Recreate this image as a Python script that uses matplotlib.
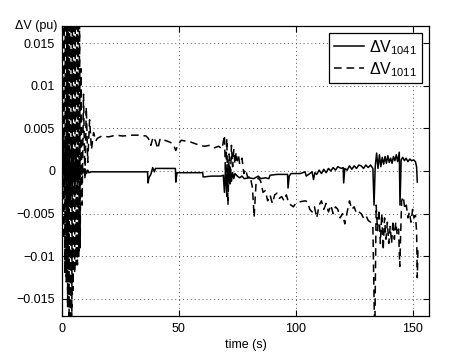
import matplotlib
matplotlib.use("Agg")
import matplotlib.pyplot as plt

plt.rcParams['font.family'] = ['Liberation Sans', 'DejaVu Sans']
plt.rcParams['mathtext.fontset'] = 'custom'
plt.rcParams['mathtext.rm'] = 'Liberation Sans'
plt.rcParams['mathtext.it'] = 'Liberation Sans'

# Delta V_1041 (solid)
t1041 = [0, 0.4, 1.0, 1.5, 2.5, 3.0, 3.5, 4.0, 4.5, 5.0, 5.5, 6.0, 6.5, 7.0, 7.5, 8.0,
         8.5, 9.0, 9.5, 10.0, 10.5, 11.0, 11.5, 12.5, 14, 20, 30, 36.6, 36.8, 37.2, 38,
         38.8, 39.5, 40, 44, 48.5, 48.7, 49.2, 55, 60.2, 60.4, 64, 68, 69, 69.5, 70,
         70.5, 71, 71.5, 72, 72.5, 73, 73.5, 74, 75, 76, 77, 78, 80, 82, 84, 85, 87,
         88.5, 89, 92, 95, 96.5, 96.7, 97.2, 98, 102, 104, 104.5, 106, 107, 107.6, 108.2,
         109, 110, 111, 112, 113, 114, 115, 116, 117, 118, 119.5, 120.3, 120.5, 121, 122,
         123, 124, 125, 126, 127, 128, 129, 130, 131, 132, 133, 133.5, 134, 134.6, 135.2,
         135.8, 136.4, 137, 137.6, 138.2, 138.8, 139.4, 140, 140.6, 141.2, 141.8, 142.4,
         143, 143.6, 144.3, 144.6, 145.1, 145.8, 146.5, 147.2, 148, 148.8, 149.6, 150.4,
         151.2, 151.7, 152]
v1041 = [0, 0.005, -0.003, 0.004, -0.011, 0.003, -0.004, 0.003, -0.003, 0.0025, -0.002,
         0.002, -0.0015, 0.0012, -0.001, 0.0006, -0.0004, 0.0003, -0.0003, 0.0002,
         -0.0003, 0.0001, -0.0002, -0.0001, -0.0001, -0.0001, -0.0001, -0.0001, -0.0014,
         -0.0008, -0.0004, 0.0004, -0.0001, 0.0003, 0.0003, 0.0003, -0.0013, -0.0002,
         -0.0002, -0.0002, -0.0007, -0.0006, -0.0006, -0.0005, -0.0025, 0.0006, -0.003,
         0.0008, -0.0015, 0.0004, -0.0012, -0.0002, -0.0009, -0.0003, -0.0006, -0.0008,
         -0.0006, -0.0009, -0.0008, -0.0009, -0.0006, -0.0009, -0.0008, -0.0009, -0.0005,
         -0.0004, -0.0004, -0.0004, -0.002, -0.0006, -0.0003, -0.0003, -0.0001, -0.0006,
         -0.0003, -0.0001, -0.001, -0.0002, -0.0004, 0.0001, -0.0003, 0.0002, -0.0002,
         0.0003, 0.0, 0.0004, 0.0001, 0.0005, 0.0003, 0.0004, -0.0014, 0.0003, 0.0001,
         0.0006, 0.0002, 0.0006, 0.0003, 0.0007, 0.0006, 0.0003, 0.0007, 0.0004, 0.0007,
         0.0003, -0.004, 0.0005, 0.0021, 0.0003, 0.0019, 0.0005, 0.0016, 0.0008, 0.0017,
         0.0009, 0.0018, 0.0010, 0.0015, 0.0009, 0.0017, 0.0012, 0.0019, 0.0011, 0.0022,
         -0.004, 0.0013, 0.0016, 0.0012, 0.0015, 0.0011, 0.0014, 0.0012, 0.0013, 0.0011,
         0.0005, -0.0013]

# Delta V_1011 (dashed)
t1011 = [0, 0.3, 0.6, 0.9, 1.2, 1.5, 1.8, 2.1, 2.4, 2.7, 3.0, 3.3, 3.6, 3.9, 4.2, 4.5,
         4.8, 5.1, 5.4, 5.7, 6.0, 6.3, 6.6, 6.9, 7.2, 7.5, 7.8, 8.1, 8.6, 9.2, 9.8, 10.4,
         11.0, 11.8, 12.6, 13.5, 14.5, 15, 17, 20, 23, 26, 30, 33, 36, 37, 38, 39, 40, 41,
         42, 44, 46, 47.5, 48.7, 49.5, 51, 53, 55, 57, 59, 61, 63, 65, 67, 68.5, 69.5, 70,
         70.5, 71, 71.5, 72, 72.5, 73, 73.5, 74, 74.5, 75, 75.5, 76, 77, 77.8, 78.5, 79.5,
         80.5, 81.5, 82.2, 83, 84, 85, 86, 87, 88, 89, 90, 91, 92, 93, 94, 95, 96, 97, 98,
         99, 100, 102, 104, 105, 106, 107, 108, 109, 110, 111, 112, 113, 114, 115, 116,
         117, 118, 119, 120, 121, 122, 123, 124, 125, 126, 127, 128, 129, 130, 131, 132,
         133, 133.8, 134.4, 135, 135.6, 136.2, 136.8, 137.4, 138, 138.6, 139.2, 139.8,
         140.4, 141, 141.6, 142.2, 142.8, 143.4, 144, 144.5, 145.3, 146, 146.7, 147.3, 148,
         148.6, 149.3, 150, 150.6, 151.2, 151.7, 152.0, 152.3]
v1011 = [0, 0.012, -0.008, 0.02, -0.012, 0.022, -0.013, 0.024, -0.016, 0.025, -0.019,
         0.025, -0.02, 0.025, -0.018, 0.024, -0.014, 0.022, -0.012, 0.021, -0.011, 0.02,
         -0.011, 0.019, -0.01, 0.018, -0.009, 0.012, -0.004, 0.009, -0.001, 0.0075, 0.001,
         0.006, 0.0025, 0.0045, 0.0035, 0.0038, 0.0041, 0.004, 0.0042, 0.0041, 0.0042,
         0.0042, 0.0041, 0.0038, 0.0030, 0.0040, 0.0035, 0.0026, 0.0038, 0.0036, 0.0034,
         0.0032, 0.0024, 0.003, 0.0036, 0.0035, 0.0034, 0.0032, 0.003, 0.0029, 0.003,
         0.0027, 0.0029, 0.0026, 0.0042, -0.001, 0.0038, -0.004, 0.002, -0.0015, 0.003,
         0.0005, 0.0025, 0.0008, 0.0022, 0.0012, 0.0019, 0.0008, 0.0015, -0.0003, 0.0002,
         -0.0008, -0.0006, -0.002, -0.0054, -0.0015, -0.0008, -0.0012, -0.0025, -0.0023,
         -0.0035, -0.0028, -0.0038, -0.0028, -0.0026, -0.0032, -0.003, -0.0035, -0.0028,
         -0.0038, -0.004, -0.0042, -0.0038, -0.0036, -0.0035, -0.0036, -0.0045, -0.0048,
         -0.0042, -0.0055, -0.004, -0.0035, -0.0045, -0.0038, -0.0048, -0.004, -0.005,
         -0.0042, -0.0045, -0.0055, -0.005, -0.0062, -0.0048, -0.0035, -0.0045, -0.0042,
         -0.005, -0.0048, -0.005, -0.0055, -0.0052, -0.0058, -0.006, -0.0065, -0.02,
         -0.004, -0.007, -0.0045, -0.0085, -0.005, -0.0093, -0.0055, -0.008, -0.006,
         -0.0085, -0.0065, -0.0085, -0.0058, -0.008, -0.006, -0.0075, -0.0068, -0.0112,
         -0.0035, -0.003, -0.0045, -0.004, -0.0055, -0.0048, -0.006, -0.0045, -0.0055,
         -0.0052, -0.007, -0.0125, -0.009]

xticks = [0, 50, 100, 150]
yticks = [-0.015, -0.01, -0.005, 0, 0.005, 0.01, 0.015]
ytick_labels = ['\u22120.015', '\u22120.01', '\u22120.005', '0', '0.005', '0.01', '0.015']

fig = plt.figure(figsize=(4.74, 3.55), dpi=100)
ax = fig.add_axes([0.1308, 0.1099, 0.905 - 0.1308, 0.9268 - 0.1099])

ax.plot(t1041, v1041, color='black', lw=1.1, ls='-', label=r'$\Delta\mathrm{V}_{1041}$')
ax.plot(t1011, v1011, color='black', lw=1.1, ls=(0, (5, 3.2)), label=r'$\Delta\mathrm{V}_{1011}$')

ax.set_xlim(0, 157)
ax.set_ylim(-0.017, 0.017)
ax.set_xticks(xticks)
ax.set_yticks(yticks)
ax.set_yticklabels(ytick_labels)
ax.tick_params(direction='in', top=True, right=True, labelsize=9, length=4, width=0.8, pad=5)
ax.grid(True, ls=(0, (1, 3)), color='#555555', lw=0.7)
for s in ax.spines.values():
    s.set_linewidth(0.9)

ax.set_xlabel('time (s)', fontsize=9, labelpad=3)
ax.text(-0.012, 1.0, '\u0394V (pu)', transform=ax.transAxes, ha='right', va='center', fontsize=9)

leg = ax.legend(loc='upper right', fontsize=11.5, frameon=True, fancybox=False,
                edgecolor='black', framealpha=1, handlelength=1.9, borderpad=0.3,
                labelspacing=0.2, handletextpad=0.3, borderaxespad=0.45)
leg.get_frame().set_linewidth(0.9)

fig.savefig('out.png', dpi=100)
